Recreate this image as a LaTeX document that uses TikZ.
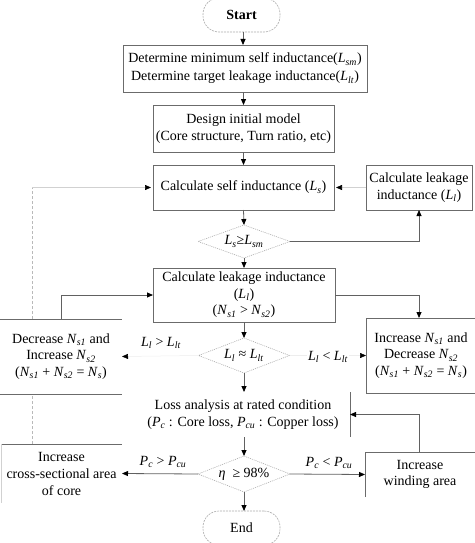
\documentclass[tikz,border=0pt]{standalone}
\usepackage{fontspec}
\setmainfont{Liberation Serif}
\usetikzlibrary{arrows.meta,shapes.geometric}
\newcommand\iv[2]{\textit{#1}\textsubscript{\textit{#2}}}
\definecolor{boxgray}{gray}{0.42}
\definecolor{linegray}{gray}{0.38}
\definecolor{faintgray}{gray}{0.82}
\definecolor{ghostgray}{gray}{0.93}
\begin{document}
\begin{tikzpicture}[x=1pt,y=-1pt,
  every node/.style={font=\fontsize{14}{16.5}\selectfont, align=center, inner sep=0pt, outer sep=0pt},
  proc/.style={draw=boxgray, line width=0.8pt, fill=white},
  open/.style={fill=white},
  term/.style={draw=gray!65, dash pattern=on 2pt off 1pt, line width=0.6pt, rounded corners=16pt, fill=white},
  choice/.style={diamond, aspect=2.6, draw=gray!65, dash pattern=on 1pt off 1pt, line width=0.6pt, fill=white},
  lbl/.style={font=\fontsize{14}{16}\selectfont, fill=white, inner sep=1pt},
  boxline/.style={draw=boxgray, line width=0.8pt},
  faintline/.style={draw=faintgray, line width=0.6pt},
  conn/.style={draw=linegray, line width=0.8pt, -{Triangle[length=6pt,width=5pt,color=black]}},
  connf/.style={draw=faintgray, line width=0.6pt, -{Triangle[length=6pt,width=5pt,color=black]}},
  conng/.style={draw=ghostgray, line width=0.5pt, -{Triangle[length=6pt,width=5pt,color=black]}},
  loopline/.style={draw=gray!55, line width=0.6pt, dash pattern=on 3pt off 2pt}]
\useasboundingbox (0,0) rectangle (474,543);
\fill[gray!60] (217,0) rectangle (267,3);
\fill[gray!15] (218,541) rectangle (268,543);

\coordinate (lp) at (32,0);

% nodes
\node[term, minimum width=77pt, minimum height=34pt] (start) at (241.5,15) {\bfseries Start};
\node[proc, minimum width=244pt, minimum height=47pt, font=\fontsize{14}{18}\selectfont] (b1) at (245,68.5)
  {Determine minimum self inductance(\iv{L}{sm})\\Determine target leakage inductance(\iv{L}{lt})};
\node[proc, minimum width=181pt, minimum height=47pt, font=\fontsize{14}{17.5}\selectfont] (b2) at (243.5,128.5)
  {Design initial model\\(Core structure, Turn ratio, etc)};
\node[proc, minimum width=181pt, minimum height=45pt] (b3) at (243.5,187.5)
  {Calculate self inductance (\iv{L}{s})};
\node[proc, minimum width=106pt, minimum height=45pt, font=\fontsize{14}{17}\selectfont] (rl) at (419,187.5)
  {Calculate leakage\\inductance (\iv{L}{l})};
\node[choice, minimum width=92pt, minimum height=33pt] (d1) at (244,241.5) {\iv{L}{s}≥\iv{L}{sm}};
\node[proc, minimum width=182pt, minimum height=54pt] (b4) at (244,295)
  {Calculate leakage inductance\\(\iv{L}{l})\\(\iv{N}{s1} > \iv{N}{s2})};
\node[choice, minimum width=91pt, minimum height=35pt] (d2) at (244,355.5) {\iv{L}{l} ≈ \iv{L}{lt}};
\node[open, minimum width=214pt, minimum height=45pt] (loss) at (243,414.5)
  {Loss analysis at rated condition\\(\iv{P}{c} : Core loss, \iv{P}{cu} : Copper loss)};
\node[choice, minimum width=92pt, minimum height=36pt] (d3) at (244,474) {\textit{η}\ \ ≥ 98\%};
\node[term, minimum width=77pt, minimum height=34pt] (end) at (241.5,528) {End};

% dashed loop (behind the left boxes)
\draw[loopline] (lp |- 0,444) -- (lp |- 0,394);
\draw[loopline] (lp |- 0,319) -- (lp |- b3.west);
\draw[connf, shorten >=2pt] (lp |- b3.west) -- (b3.west);

\node[open, minimum width=122pt, minimum height=75pt] (dec) at (61,356.5)
  {Decrease \iv{N}{s1} and\\Increase \iv{N}{s2}\\(\iv{N}{s1} + \iv{N}{s2} = \iv{N}{s})};
\node[proc, minimum width=110pt, minimum height=75pt] (inc) at (421,355.5)
  {Increase \iv{N}{s1} and\\Decrease \iv{N}{s2}\\(\iv{N}{s1} + \iv{N}{s2} = \iv{N}{s})};
\node[open, minimum width=121pt, minimum height=59pt, font=\fontsize{14}{17}\selectfont] (xcs) at (61.5,473.5)
  {Increase\\cross-sectional area\\of core};
\node[open, minimum width=110pt, minimum height=45pt, font=\fontsize{14}{15.5}\selectfont] (win) at (420,474.5)
  {Increase\\winding area};

% partial box edges as printed
\draw[boxline] (dec.north west) -- (dec.north east);
\draw[boxline] (dec.south west) -- (dec.south east);
\draw[boxline] (xcs.north west) -- (xcs.north east);
\draw[faintline] (xcs.north west) -- (xcs.south west);
\draw[boxline] (win.south west) -- (win.north west) -- (win.north east);
\draw[boxline] (loss.north east) -- (loss.south east);

% main flow
\draw[conn] (start.south -| 243,0) -- (b1.north -| 243,0);
\draw[conn] (b1.south -| b2.north) -- (b2.north);
\draw[conn] (b2.south) -- (b3.north);
\draw[conn] (b3.south) -- (d1.north);
\draw[conn] (d1.south) -- (b4.north);
\draw[conn] (b4.south) -- (d2.north);
\draw[conn] (d2.south) -- (loss.north -| d2.south);
\draw[conn] (loss.south -| d3.north) -- (d3.north);
\draw[conn] (d3.south) -- (end.north -| d3.south);

% side connections
\draw[conn] (d1.east) -| (rl.south);
\draw[connf, shorten >=2pt] (rl.west) -- (b3.east);
\draw[conn] (dec.north) |- (b4.west);
\draw[conn] (b4.east) -| (rl.south |- inc.north);
\draw[conng] (d2.west) -- (dec.east);
\draw[conng] (d2.east) -- (inc.west);
\draw[conn] (win.north -| rl.south) |- (loss.east);
\draw[conn] (d3.west) -- (xcs.east);
\draw[conn] (d3.east) -- (win.west);

% labels
\node[lbl] (l1) at (161,343) {\iv{L}{l} > \iv{L}{lt}};
\node[lbl] (l2) at (328,357) {\iv{L}{l} < \iv{L}{lt}};
\node[lbl] (l3) at (163,462) {\iv{P}{c} > \iv{P}{cu}};
\node[lbl] (l4) at (329,463) {\iv{P}{c} < \iv{P}{cu}};
\end{tikzpicture}
\end{document}
